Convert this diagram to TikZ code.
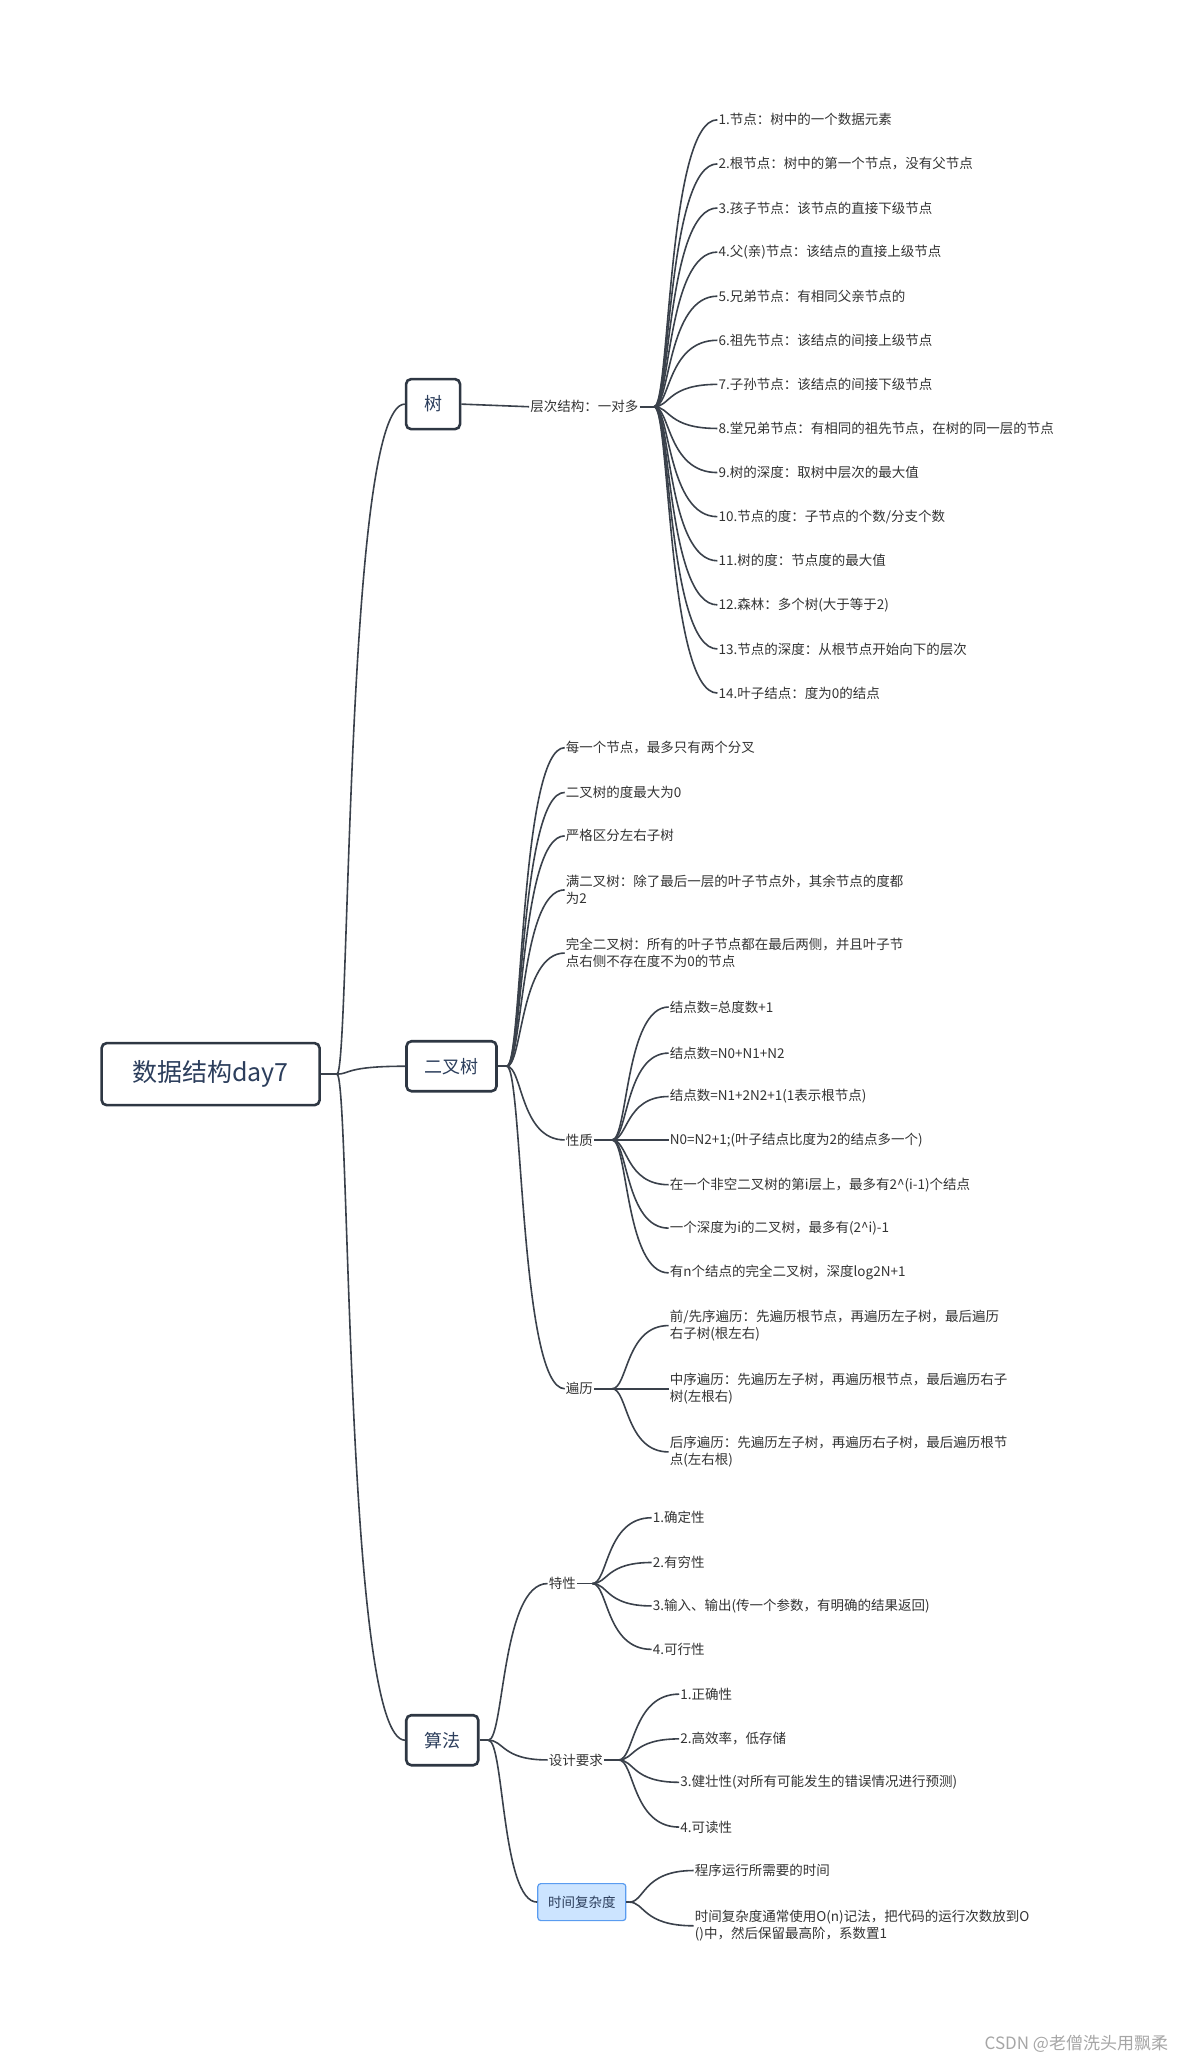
\documentclass[tikz,border=0pt]{standalone}
\usepackage{fontspec}
\setmainfont{Noto Sans CJK SC}
\usetikzlibrary{calc}
\definecolor{ln}{HTML}{3A414B}
\definecolor{bx}{HTML}{2E3743}
\definecolor{bt}{HTML}{2C3E5C}
\definecolor{tx}{HTML}{333333}
\definecolor{blu}{HTML}{CCE4FF}
\definecolor{blb}{HTML}{5A9CF0}
\newcommand{\br}[2]{\draw[conn] (#1) .. controls ($(#1)+(12,0)$) and ($(#1 |- #2.west)+(10,0)$) .. (#2.west);}
\begin{document}
\begin{tikzpicture}[x=1.3163pt,y=-1.3163pt,
  conn/.style={draw=ln,line width=1.6pt},
  leaf/.style={anchor=west,inner sep=1pt,text=tx,font=\fontsize{13.5}{17}\selectfont,align=left},
  box/.style={draw=bx,line width=2.6pt,rounded corners=5pt,text=bt,fill=white,font=\fontsize{18}{20}\selectfont,minimum height=50pt,inner xsep=18pt}]
\useasboundingbox (0,0) rectangle (901,1568);
% root and main boxes
\node[box,minimum width=218pt,minimum height=62pt,font=\fontsize{25}{28}\selectfont] (root) at (160,816) {数据结构day7};
\node[box] (shu) at (329,307) {树};
\node[box] (ecs) at (343,810) {二叉树};
\node[box] (sf) at (336,1322) {算法};
\coordinate (rh) at (256,816);
\draw[conn] (root.east) -- (rh);
\foreach \n in {shu,ecs,sf}{\draw[conn] (rh) .. controls ($(rh)+(10,0)$) and ($(rh |- \n.west)+(6,0)$) .. (\n.west);}
% tree
\node[leaf] (cc) at (402,309) {层次结构：一对多};
\draw[conn] (shu.east) -- (cc.west);
\coordinate (ch) at (497,309);
\draw[conn] (cc.east) -- (ch);
\node[leaf] (t1) at (545,91) {1.节点：树中的一个数据元素};
\node[leaf] (t2) at (545,124.5) {2.根节点：树中的第一个节点，没有父节点};
\node[leaf] (t3) at (545,158) {3.孩子节点：该节点的直接下级节点};
\node[leaf] (t4) at (545,191.5) {4.父(亲)节点：该结点的直接上级节点};
\node[leaf] (t5) at (545,225) {5.兄弟节点：有相同父亲节点的};
\node[leaf] (t6) at (545,258.5) {6.祖先节点：该结点的间接上级节点};
\node[leaf] (t7) at (545,292) {7.子孙节点：该结点的间接下级节点};
\node[leaf] (t8) at (545,325.5) {8.堂兄弟节点：有相同的祖先节点，在树的同一层的节点};
\node[leaf] (t9) at (545,359) {9.树的深度：取树中层次的最大值};
\node[leaf] (t10) at (545,392.5) {10.节点的度：子节点的个数/分支个数};
\node[leaf] (t11) at (545,426) {11.树的度：节点度的最大值};
\node[leaf] (t12) at (545,459.5) {12.森林：多个树(大于等于2)};
\node[leaf] (t13) at (545,493) {13.节点的深度：从根节点开始向下的层次};
\node[leaf] (t14) at (545,526.5) {14.叶子结点：度为0的结点};
\foreach \i in {1,...,14}{\br{ch}{t\i}}
% binary tree
\coordinate (eh) at (385,810);
\draw[conn] (ecs.east) -- (eh);
\node[leaf] (b1) at (429,568) {每一个节点，最多只有两个分叉};
\node[leaf] (b2) at (429,602) {二叉树的度最大为0};
\node[leaf] (b3) at (429,635) {严格区分左右子树};
\node[leaf] (b4) at (429,676) {满二叉树：除了最后一层的叶子节点外，其余节点的度都\\为2};
\node[leaf] (b5) at (429,724) {完全二叉树：所有的叶子节点都在最后两侧，并且叶子节\\点右侧不存在度不为0的节点};
\node[leaf] (xz) at (429,866) {性质};
\node[leaf] (bl) at (429,1055) {遍历};
\foreach \n in {b1,b2,b3,b4,b5,xz,bl}{\br{eh}{\n}}
\coordinate (xh) at (465,866);
\draw[conn] (xz.east) -- (xh);
\node[leaf] (x1) at (508,765) {结点数=总度数+1};
\node[leaf] (x2) at (508,800) {结点数=N0+N1+N2};
\node[leaf] (x3) at (508,833) {结点数=N1+2N2+1(1表示根节点)};
\node[leaf] (x4) at (508,866) {N0=N2+1;(叶子结点比度为2的结点多一个)};
\node[leaf] (x5) at (508,900) {在一个非空二叉树的第i层上，最多有2\^{}(i-1)个结点};
\node[leaf] (x6) at (508,933) {一个深度为i的二叉树，最多有(2\^{}i)-1};
\node[leaf] (x7) at (508,967) {有n个结点的完全二叉树，深度log2N+1};
\foreach \i in {1,...,7}{\br{xh}{x\i}}
\coordinate (lh) at (465,1055);
\draw[conn] (bl.east) -- (lh);
\node[leaf] (l1) at (508,1007) {前/先序遍历：先遍历根节点，再遍历左子树，最后遍历\\右子树(根左右)};
\node[leaf] (l2) at (508,1055) {中序遍历：先遍历左子树，再遍历根节点，最后遍历右子\\树(左根右)};
\node[leaf] (l3) at (508,1103) {后序遍历：先遍历左子树，再遍历右子树，最后遍历根节\\点(左右根)};
\foreach \i in {1,2,3}{\br{lh}{l\i}}
% algorithm
\coordinate (sh) at (371,1322);
\draw[conn] (sf.east) -- (sh);
\node[leaf] (tx) at (416,1203) {特性};
\node[leaf] (sj) at (416,1337) {设计要求};
\node[draw=blb,line width=1.2pt,fill=blu,rounded corners=3pt,text=bt,font=\fontsize{13.5}{17}\selectfont,minimum width=88pt,minimum height=37pt] (sjfz) at (442,1445) {时间复杂度};
\foreach \n in {tx,sj,sjfz}{\br{sh}{\n}}
\coordinate (txh) at (450,1203);
\draw[conn] (tx.east) -- (txh);
\node[leaf] (p1) at (495,1153) {1.确定性};
\node[leaf] (p2) at (495,1187) {2.有穷性};
\node[leaf] (p3) at (495,1220) {3.输入、输出(传一个参数，有明确的结果返回)};
\node[leaf] (p4) at (495,1253) {4.可行性};
\foreach \i in {1,...,4}{\br{txh}{p\i}}
\coordinate (sjh) at (470,1337);
\draw[conn] (sj.east) -- (sjh);
\node[leaf] (q1) at (516,1287) {1.正确性};
\node[leaf] (q2) at (516,1321) {2.高效率，低存储};
\node[leaf] (q3) at (516,1354) {3.健壮性(对所有可能发生的错误情况进行预测)};
\node[leaf] (q4) at (516,1388) {4.可读性};
\foreach \i in {1,...,4}{\br{sjh}{q\i}}
\coordinate (th) at (478,1445);
\draw[conn] (sjfz.east) -- (th);
\node[leaf] (r1) at (527,1421) {程序运行所需要的时间};
\node[leaf] (r2) at (527,1463) {时间复杂度通常使用O(n)记法，把代码的运行次数放到O\\()中，然后保留最高阶，系数置1};
\foreach \i in {1,2}{\br{th}{r\i}}
\node[anchor=east,text=gray!70,font=\fontsize{17}{19}\selectfont] (wm) at (890,1553) {CSDN @老僧洗头用飘柔};
\end{tikzpicture}
\end{document}
